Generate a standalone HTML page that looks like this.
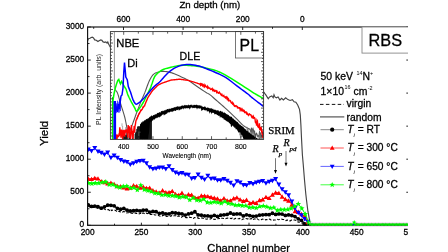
<!DOCTYPE html>
<html><head><meta charset="utf-8"><title>RBS PL figure</title>
<style>html,body{margin:0;padding:0;background:#fff;}body{width:448px;height:252px;position:relative;overflow:hidden;}</style>
</head><body>
<svg width="448" height="252" viewBox="0 0 448 252" style="position:absolute;left:0;top:0">
<defs><clipPath id="mc"><rect x="88" y="27" width="320" height="200"/></clipPath><clipPath id="ic"><rect x="110.6" y="31.8" width="152.9" height="107.4"/></clipPath></defs>
<rect x="87.6" y="27.0" width="321.9" height="198.3" fill="none" stroke="#111" stroke-width="1.15"/>
<path d="M87.6,225.30h3.2M409.5,225.30h-3.2M87.6,208.78h1.9M87.6,192.25h3.2M409.5,192.25h-3.2M87.6,175.73h1.9M87.6,159.20h3.2M409.5,159.20h-3.2M87.6,142.68h1.9M87.6,126.15h3.2M409.5,126.15h-3.2M87.6,109.62h1.9M87.6,93.10h3.2M409.5,93.10h-3.2M87.6,76.57h1.9M87.6,60.05h3.2M409.5,60.05h-3.2M87.6,43.53h1.9M87.6,27.00h3.2M409.5,27.00h-3.2M87.60,225.3v-2.6M114.50,225.3v-1.6M141.40,225.3v-2.6M168.30,225.3v-1.6M195.20,225.3v-2.6M222.10,225.3v-1.6M249.00,225.3v-2.6M275.90,225.3v-1.6M302.80,225.3v-2.6M329.70,225.3v-1.6M356.60,225.3v-2.6M383.50,225.3v-1.6M410.40,225.3v-2.6M302.30,27v3.0M272.50,27v1.8M242.70,27v3.0M212.90,27v1.8M183.10,27v3.0M153.30,27v1.8M123.50,27v3.0M93.70,27v1.8" stroke="#111" stroke-width="0.9" fill="none"/>
<g clip-path="url(#mc)">
<polyline points="87.80,40.50 88.40,38.70 90.00,38.30 91.20,37.50 92.30,37.10 93.50,37.90 94.70,39.90 96.30,40.30 97.90,41.50 99.10,40.70 100.70,39.90 101.90,40.30 103.10,41.90 104.70,42.30 105.80,41.90 107.00,43.10 107.80,41.90 108.60,43.90 109.40,45.50 110.40,47.30" fill="none" stroke="#444" stroke-width="1.15"/>
<polyline points="263.50,91.50 263.80,92.00 264.70,93.40 266.00,95.10 268.25,98.70 269.60,96.90 271.80,96.00 273.20,97.80 274.00,94.70 274.90,96.90 276.30,97.80 278.10,96.90 279.90,100.00 281.60,98.30 283.40,100.00 285.70,97.80 287.90,99.60 290.10,100.50 292.40,99.60 294.10,101.80 295.90,102.30 297.70,105.00 299.50,109.40 300.30,115.00 300.90,125.00 301.60,140.00 302.40,155.00 303.20,164.00 304.50,180.00 305.80,194.00 306.50,200.00 307.90,211.20 309.80,221.40 311.00,224.00 312.00,224.80 408.00,224.80" fill="none" stroke="#444" stroke-width="1.15"/>
<polyline points="88.00,206.25 89.08,206.27 90.15,207.23 91.23,206.69 92.30,207.54 93.38,207.48 94.46,207.21 95.53,208.01 96.61,207.52 97.68,208.24 98.76,207.90 99.84,208.10 100.91,208.70 101.99,209.40 103.06,208.54 104.14,208.81 105.22,209.50 106.29,210.06 107.37,209.65 108.44,209.51 109.52,210.44 110.60,209.31 111.67,210.65 112.75,210.05 113.82,210.04 114.90,210.20 115.98,210.67 117.05,211.58 118.13,210.87 119.20,211.60 120.28,211.85 121.36,211.65 122.43,212.07 123.51,211.56 124.58,211.72 125.66,212.10 126.74,212.93 127.81,212.75 128.89,212.76 129.96,213.31 131.04,213.15 132.12,212.96 133.19,213.67 134.27,213.56 135.34,212.94 136.42,213.42 137.50,213.38 138.57,213.89 139.65,213.70 140.72,213.10 141.80,214.09 142.88,212.91 143.95,213.35 145.03,213.84 146.10,213.03 147.18,213.65 148.26,213.17 149.33,214.20 150.41,214.49 151.48,214.37 152.56,214.95 153.64,214.31 154.71,215.00 155.79,215.01 156.86,215.14 157.94,215.12 159.02,215.81 160.09,216.05 161.17,215.45 162.24,215.78 163.32,214.99 164.40,215.94 165.47,215.93 166.55,216.47 167.62,216.29 168.70,215.59 169.78,215.79 170.85,216.25 171.93,215.40 173.00,216.07 174.08,215.72 175.16,215.70 176.23,215.68 177.31,216.73 178.38,215.89 179.46,216.12 180.54,216.40 181.61,217.18 182.69,216.18 183.76,216.81 184.84,217.05 185.92,217.63 186.99,217.65 188.07,217.82 189.14,217.10 190.22,217.40 191.30,217.43 192.37,218.28 193.45,218.49 194.52,217.46 195.60,217.61 196.68,217.79 197.75,217.90 198.83,218.36 199.90,218.62 200.98,218.19 202.06,217.85 203.13,218.46 204.21,218.42 205.28,218.72 206.36,219.28 207.44,218.94 208.51,218.72 209.59,218.89 210.66,219.00 211.74,218.15 212.82,219.36 213.89,219.22 214.97,219.38 216.04,219.29 217.12,218.75 218.20,218.75 219.27,218.33 220.35,219.06 221.42,218.25 222.50,218.25 223.58,218.44 224.65,218.37 225.73,218.61 226.80,218.20 227.88,218.12 228.96,218.32 230.03,218.24 231.11,218.63 232.18,218.18 233.26,219.39 234.34,219.05 235.41,218.42 236.49,218.58 237.56,218.74 238.64,218.78 239.72,218.47 240.79,219.50 241.87,219.73 242.94,219.01 244.02,219.06 245.10,218.52 246.17,218.57 247.25,218.92 248.32,218.84 249.40,219.65 250.48,218.73 251.55,218.56 252.63,219.88 253.70,219.30 254.78,218.78 255.86,219.36 256.93,218.65 258.01,219.37 259.08,220.02 260.16,219.88 261.24,219.66 262.31,219.07 263.39,219.24 264.46,218.97 265.54,219.84 266.62,219.52 267.69,219.89 268.77,219.27 269.84,219.14 270.92,219.98 272.00,220.25 273.07,220.08 274.15,220.03 275.22,220.07 276.30,219.97 277.38,219.27 278.45,219.70 279.53,219.49 280.60,219.07 281.68,219.13 282.76,219.54 283.83,219.57 284.91,220.23 285.98,220.66 287.06,220.00 288.14,220.75 289.21,220.87 290.29,220.89 291.36,220.12 292.44,219.97 293.52,220.04 294.59,220.05 295.67,220.29 296.74,221.20 297.82,221.91 298.90,222.15 299.97,221.96 301.05,222.61 302.12,223.22 303.20,222.62 304.28,223.90 305.35,224.95 306.43,225.20 307.50,225.15 308.58,224.77 309.66,224.35 310.73,225.20 311.81,224.57" fill="none" stroke="#000" stroke-width="1.1" stroke-dasharray="2.8,1.6"/>
<polyline points="88.30,204.88 91.53,206.47 94.76,206.08 97.99,206.75 101.22,208.15 104.45,206.83 107.68,205.20 110.91,205.28 114.14,205.86 117.37,208.28 120.60,209.27 123.83,208.42 127.06,210.21 130.29,211.00 133.52,210.74 136.75,210.35 139.98,210.93 143.21,210.16 146.44,210.03 149.67,212.14 152.90,211.43 156.13,211.68 159.36,213.36 162.59,212.95 165.82,213.92 169.05,213.82 172.28,212.64 175.51,213.01 178.74,213.42 181.97,213.82 185.20,215.10 188.43,213.89 191.66,213.17 194.89,211.77 198.12,214.96 201.35,215.21 204.58,215.87 207.81,215.93 211.04,216.48 214.27,215.37 217.50,216.41 220.73,215.13 223.96,214.84 227.19,214.46 230.42,212.98 233.65,214.17 236.88,213.94 240.11,213.88 243.34,215.97 246.57,214.79 249.80,215.59 253.03,216.29 256.26,216.07 259.49,215.15 262.72,214.81 265.95,214.53 269.18,214.71 272.41,213.25 275.64,214.41 278.87,213.89 282.10,214.11 285.33,215.37 288.56,214.94 291.79,215.49 295.02,216.58 298.25,218.86 301.48,220.36 304.71,223.82 309.00,224.60 408.00,224.60" fill="none" stroke="#111" stroke-width="1.5"/>
<path d="M86.40,204.88a1.9,1.9 0 1,0 3.8,0a1.9,1.9 0 1,0 -3.8,0ZM89.63,206.47a1.9,1.9 0 1,0 3.8,0a1.9,1.9 0 1,0 -3.8,0ZM92.86,206.08a1.9,1.9 0 1,0 3.8,0a1.9,1.9 0 1,0 -3.8,0ZM96.09,206.75a1.9,1.9 0 1,0 3.8,0a1.9,1.9 0 1,0 -3.8,0ZM99.32,208.15a1.9,1.9 0 1,0 3.8,0a1.9,1.9 0 1,0 -3.8,0ZM102.55,206.83a1.9,1.9 0 1,0 3.8,0a1.9,1.9 0 1,0 -3.8,0ZM105.78,205.20a1.9,1.9 0 1,0 3.8,0a1.9,1.9 0 1,0 -3.8,0ZM109.01,205.28a1.9,1.9 0 1,0 3.8,0a1.9,1.9 0 1,0 -3.8,0ZM112.24,205.86a1.9,1.9 0 1,0 3.8,0a1.9,1.9 0 1,0 -3.8,0ZM115.47,208.28a1.9,1.9 0 1,0 3.8,0a1.9,1.9 0 1,0 -3.8,0ZM118.70,209.27a1.9,1.9 0 1,0 3.8,0a1.9,1.9 0 1,0 -3.8,0ZM121.93,208.42a1.9,1.9 0 1,0 3.8,0a1.9,1.9 0 1,0 -3.8,0ZM125.16,210.21a1.9,1.9 0 1,0 3.8,0a1.9,1.9 0 1,0 -3.8,0ZM128.39,211.00a1.9,1.9 0 1,0 3.8,0a1.9,1.9 0 1,0 -3.8,0ZM131.62,210.74a1.9,1.9 0 1,0 3.8,0a1.9,1.9 0 1,0 -3.8,0ZM134.85,210.35a1.9,1.9 0 1,0 3.8,0a1.9,1.9 0 1,0 -3.8,0ZM138.08,210.93a1.9,1.9 0 1,0 3.8,0a1.9,1.9 0 1,0 -3.8,0ZM141.31,210.16a1.9,1.9 0 1,0 3.8,0a1.9,1.9 0 1,0 -3.8,0ZM144.54,210.03a1.9,1.9 0 1,0 3.8,0a1.9,1.9 0 1,0 -3.8,0ZM147.77,212.14a1.9,1.9 0 1,0 3.8,0a1.9,1.9 0 1,0 -3.8,0ZM151.00,211.43a1.9,1.9 0 1,0 3.8,0a1.9,1.9 0 1,0 -3.8,0ZM154.23,211.68a1.9,1.9 0 1,0 3.8,0a1.9,1.9 0 1,0 -3.8,0ZM157.46,213.36a1.9,1.9 0 1,0 3.8,0a1.9,1.9 0 1,0 -3.8,0ZM160.69,212.95a1.9,1.9 0 1,0 3.8,0a1.9,1.9 0 1,0 -3.8,0ZM163.92,213.92a1.9,1.9 0 1,0 3.8,0a1.9,1.9 0 1,0 -3.8,0ZM167.15,213.82a1.9,1.9 0 1,0 3.8,0a1.9,1.9 0 1,0 -3.8,0ZM170.38,212.64a1.9,1.9 0 1,0 3.8,0a1.9,1.9 0 1,0 -3.8,0ZM173.61,213.01a1.9,1.9 0 1,0 3.8,0a1.9,1.9 0 1,0 -3.8,0ZM176.84,213.42a1.9,1.9 0 1,0 3.8,0a1.9,1.9 0 1,0 -3.8,0ZM180.07,213.82a1.9,1.9 0 1,0 3.8,0a1.9,1.9 0 1,0 -3.8,0ZM183.30,215.10a1.9,1.9 0 1,0 3.8,0a1.9,1.9 0 1,0 -3.8,0ZM186.53,213.89a1.9,1.9 0 1,0 3.8,0a1.9,1.9 0 1,0 -3.8,0ZM189.76,213.17a1.9,1.9 0 1,0 3.8,0a1.9,1.9 0 1,0 -3.8,0ZM192.99,211.77a1.9,1.9 0 1,0 3.8,0a1.9,1.9 0 1,0 -3.8,0ZM196.22,214.96a1.9,1.9 0 1,0 3.8,0a1.9,1.9 0 1,0 -3.8,0ZM199.45,215.21a1.9,1.9 0 1,0 3.8,0a1.9,1.9 0 1,0 -3.8,0ZM202.68,215.87a1.9,1.9 0 1,0 3.8,0a1.9,1.9 0 1,0 -3.8,0ZM205.91,215.93a1.9,1.9 0 1,0 3.8,0a1.9,1.9 0 1,0 -3.8,0ZM209.14,216.48a1.9,1.9 0 1,0 3.8,0a1.9,1.9 0 1,0 -3.8,0ZM212.37,215.37a1.9,1.9 0 1,0 3.8,0a1.9,1.9 0 1,0 -3.8,0ZM215.60,216.41a1.9,1.9 0 1,0 3.8,0a1.9,1.9 0 1,0 -3.8,0ZM218.83,215.13a1.9,1.9 0 1,0 3.8,0a1.9,1.9 0 1,0 -3.8,0ZM222.06,214.84a1.9,1.9 0 1,0 3.8,0a1.9,1.9 0 1,0 -3.8,0ZM225.29,214.46a1.9,1.9 0 1,0 3.8,0a1.9,1.9 0 1,0 -3.8,0ZM228.52,212.98a1.9,1.9 0 1,0 3.8,0a1.9,1.9 0 1,0 -3.8,0ZM231.75,214.17a1.9,1.9 0 1,0 3.8,0a1.9,1.9 0 1,0 -3.8,0ZM234.98,213.94a1.9,1.9 0 1,0 3.8,0a1.9,1.9 0 1,0 -3.8,0ZM238.21,213.88a1.9,1.9 0 1,0 3.8,0a1.9,1.9 0 1,0 -3.8,0ZM241.44,215.97a1.9,1.9 0 1,0 3.8,0a1.9,1.9 0 1,0 -3.8,0ZM244.67,214.79a1.9,1.9 0 1,0 3.8,0a1.9,1.9 0 1,0 -3.8,0ZM247.90,215.59a1.9,1.9 0 1,0 3.8,0a1.9,1.9 0 1,0 -3.8,0ZM251.13,216.29a1.9,1.9 0 1,0 3.8,0a1.9,1.9 0 1,0 -3.8,0ZM254.36,216.07a1.9,1.9 0 1,0 3.8,0a1.9,1.9 0 1,0 -3.8,0ZM257.59,215.15a1.9,1.9 0 1,0 3.8,0a1.9,1.9 0 1,0 -3.8,0ZM260.82,214.81a1.9,1.9 0 1,0 3.8,0a1.9,1.9 0 1,0 -3.8,0ZM264.05,214.53a1.9,1.9 0 1,0 3.8,0a1.9,1.9 0 1,0 -3.8,0ZM267.28,214.71a1.9,1.9 0 1,0 3.8,0a1.9,1.9 0 1,0 -3.8,0ZM270.51,213.25a1.9,1.9 0 1,0 3.8,0a1.9,1.9 0 1,0 -3.8,0ZM273.74,214.41a1.9,1.9 0 1,0 3.8,0a1.9,1.9 0 1,0 -3.8,0ZM276.97,213.89a1.9,1.9 0 1,0 3.8,0a1.9,1.9 0 1,0 -3.8,0ZM280.20,214.11a1.9,1.9 0 1,0 3.8,0a1.9,1.9 0 1,0 -3.8,0ZM283.43,215.37a1.9,1.9 0 1,0 3.8,0a1.9,1.9 0 1,0 -3.8,0ZM286.66,214.94a1.9,1.9 0 1,0 3.8,0a1.9,1.9 0 1,0 -3.8,0ZM289.89,215.49a1.9,1.9 0 1,0 3.8,0a1.9,1.9 0 1,0 -3.8,0ZM293.12,216.58a1.9,1.9 0 1,0 3.8,0a1.9,1.9 0 1,0 -3.8,0ZM296.35,218.86a1.9,1.9 0 1,0 3.8,0a1.9,1.9 0 1,0 -3.8,0ZM299.58,220.36a1.9,1.9 0 1,0 3.8,0a1.9,1.9 0 1,0 -3.8,0ZM302.81,223.82a1.9,1.9 0 1,0 3.8,0a1.9,1.9 0 1,0 -3.8,0Z" fill="#000"/>
<polyline points="88.30,178.82 91.53,178.84 94.76,177.84 97.99,178.33 101.22,181.12 104.45,182.00 107.68,183.26 110.91,182.59 114.14,183.87 117.37,185.93 120.60,186.29 123.83,187.40 127.06,188.41 130.29,187.62 133.52,185.31 136.75,186.03 139.98,187.65 143.21,186.77 146.44,187.92 149.67,187.69 152.90,190.33 156.13,191.53 159.36,192.72 162.59,190.26 165.82,192.28 169.05,192.20 172.28,190.86 175.51,194.05 178.74,194.90 181.97,192.77 185.20,195.90 188.43,194.18 191.66,194.78 194.89,197.33 198.12,197.67 201.35,195.48 204.58,195.73 207.81,196.09 211.04,197.03 214.27,197.79 217.50,198.56 220.73,200.35 223.96,198.16 227.19,200.42 230.42,200.37 233.65,198.24 236.88,197.39 240.11,199.42 243.34,200.88 246.57,199.68 249.80,203.08 253.03,201.95 256.26,202.77 259.49,200.02 262.72,199.30 265.95,196.87 269.18,197.91 272.41,194.47 275.64,192.49 278.87,192.88 282.10,196.57 285.33,199.06 288.56,200.51 291.79,204.42 295.02,211.10 298.25,211.73 301.48,214.00 304.71,216.14 307.94,221.73 313.00,224.60 408.00,224.60" fill="none" stroke="#f00" stroke-width="1.0"/>
<path d="M85.85,181.02L90.75,181.02L88.30,176.61ZM89.08,181.05L93.98,181.05L91.53,176.64ZM92.31,180.04L97.21,180.04L94.76,175.63ZM95.54,180.54L100.44,180.54L97.99,176.13ZM98.77,183.33L103.67,183.33L101.22,178.92ZM102.00,184.21L106.90,184.21L104.45,179.80ZM105.23,185.46L110.13,185.46L107.68,181.05ZM108.46,184.80L113.36,184.80L110.91,180.39ZM111.69,186.07L116.59,186.07L114.14,181.66ZM114.92,188.14L119.82,188.14L117.37,183.73ZM118.15,188.49L123.05,188.49L120.60,184.08ZM121.38,189.60L126.28,189.60L123.83,185.19ZM124.61,190.62L129.51,190.62L127.06,186.21ZM127.84,189.82L132.74,189.82L130.29,185.41ZM131.07,187.51L135.97,187.51L133.52,183.10ZM134.30,188.23L139.20,188.23L136.75,183.82ZM137.53,189.86L142.43,189.86L139.98,185.45ZM140.76,188.97L145.66,188.97L143.21,184.56ZM143.99,190.12L148.89,190.12L146.44,185.71ZM147.22,189.90L152.12,189.90L149.67,185.49ZM150.45,192.53L155.35,192.53L152.90,188.12ZM153.68,193.73L158.58,193.73L156.13,189.32ZM156.91,194.93L161.81,194.93L159.36,190.52ZM160.14,192.46L165.04,192.46L162.59,188.05ZM163.37,194.48L168.27,194.48L165.82,190.07ZM166.60,194.40L171.50,194.40L169.05,189.99ZM169.83,193.07L174.73,193.07L172.28,188.66ZM173.06,196.25L177.96,196.25L175.51,191.84ZM176.29,197.11L181.19,197.11L178.74,192.70ZM179.52,194.98L184.42,194.98L181.97,190.57ZM182.75,198.10L187.65,198.10L185.20,193.69ZM185.98,196.39L190.88,196.39L188.43,191.98ZM189.21,196.99L194.11,196.99L191.66,192.58ZM192.44,199.54L197.34,199.54L194.89,195.13ZM195.67,199.88L200.57,199.88L198.12,195.47ZM198.90,197.68L203.80,197.68L201.35,193.27ZM202.13,197.93L207.03,197.93L204.58,193.52ZM205.36,198.30L210.26,198.30L207.81,193.89ZM208.59,199.23L213.49,199.23L211.04,194.82ZM211.82,199.99L216.72,199.99L214.27,195.58ZM215.05,200.77L219.95,200.77L217.50,196.36ZM218.28,202.56L223.18,202.56L220.73,198.15ZM221.51,200.36L226.41,200.36L223.96,195.95ZM224.74,202.62L229.64,202.62L227.19,198.21ZM227.97,202.58L232.87,202.58L230.42,198.17ZM231.20,200.45L236.10,200.45L233.65,196.04ZM234.43,199.60L239.33,199.60L236.88,195.19ZM237.66,201.62L242.56,201.62L240.11,197.21ZM240.89,203.08L245.79,203.08L243.34,198.67ZM244.12,201.89L249.02,201.89L246.57,197.48ZM247.35,205.28L252.25,205.28L249.80,200.87ZM250.58,204.16L255.48,204.16L253.03,199.75ZM253.81,204.97L258.71,204.97L256.26,200.56ZM257.04,202.22L261.94,202.22L259.49,197.81ZM260.27,201.50L265.17,201.50L262.72,197.09ZM263.50,199.07L268.40,199.07L265.95,194.66ZM266.73,200.12L271.63,200.12L269.18,195.71ZM269.96,196.67L274.86,196.67L272.41,192.26ZM273.19,194.69L278.09,194.69L275.64,190.28ZM276.42,195.08L281.32,195.08L278.87,190.67ZM279.65,198.77L284.55,198.77L282.10,194.36ZM282.88,201.27L287.78,201.27L285.33,196.86ZM286.11,202.72L291.01,202.72L288.56,198.31ZM289.34,206.63L294.24,206.63L291.79,202.22ZM292.57,213.30L297.47,213.30L295.02,208.89ZM295.80,213.93L300.70,213.93L298.25,209.52ZM299.03,216.20L303.93,216.20L301.48,211.79ZM302.26,218.34L307.16,218.34L304.71,213.93ZM305.49,223.94L310.39,223.94L307.94,219.53Z" fill="#f00"/>
<polyline points="88.30,149.75 91.53,151.14 94.76,148.37 97.99,151.69 101.22,153.11 104.45,154.72 107.68,152.76 110.91,157.98 114.14,155.84 117.37,158.04 120.60,160.20 123.83,161.64 127.06,162.21 130.29,164.65 133.52,163.55 136.75,161.92 139.98,161.37 143.21,160.94 146.44,163.43 149.67,167.40 152.90,169.19 156.13,168.83 159.36,167.82 162.59,167.77 165.82,169.16 169.05,166.61 172.28,170.32 175.51,172.78 178.74,174.01 181.97,173.30 185.20,174.69 188.43,174.95 191.66,178.64 194.89,178.23 198.12,174.80 201.35,178.12 204.58,179.67 207.81,176.08 211.04,178.93 214.27,178.81 217.50,180.53 220.73,180.48 223.96,179.37 227.19,181.05 230.42,182.92 233.65,185.64 236.88,181.55 240.11,182.63 243.34,185.18 246.57,185.55 249.80,183.26 253.03,184.18 256.26,182.84 259.49,182.01 262.72,181.28 265.95,183.38 269.18,181.92 272.41,180.91 275.64,179.31 278.87,184.86 282.10,189.38 285.33,192.39 288.56,195.56 291.79,201.65 295.02,208.28 298.25,213.08 301.48,215.53 304.71,219.31 307.94,221.89 314.00,224.60 408.00,224.60" fill="none" stroke="#00f" stroke-width="1.0"/>
<path d="M85.80,147.50L90.80,147.50L88.30,152.00ZM89.03,148.89L94.03,148.89L91.53,153.39ZM92.26,146.12L97.26,146.12L94.76,150.62ZM95.49,149.44L100.49,149.44L97.99,153.94ZM98.72,150.86L103.72,150.86L101.22,155.36ZM101.95,152.47L106.95,152.47L104.45,156.97ZM105.18,150.51L110.18,150.51L107.68,155.01ZM108.41,155.73L113.41,155.73L110.91,160.23ZM111.64,153.59L116.64,153.59L114.14,158.09ZM114.87,155.79L119.87,155.79L117.37,160.29ZM118.10,157.95L123.10,157.95L120.60,162.45ZM121.33,159.39L126.33,159.39L123.83,163.89ZM124.56,159.96L129.56,159.96L127.06,164.46ZM127.79,162.40L132.79,162.40L130.29,166.90ZM131.02,161.30L136.02,161.30L133.52,165.80ZM134.25,159.67L139.25,159.67L136.75,164.17ZM137.48,159.12L142.48,159.12L139.98,163.62ZM140.71,158.69L145.71,158.69L143.21,163.19ZM143.94,161.18L148.94,161.18L146.44,165.68ZM147.17,165.15L152.17,165.15L149.67,169.65ZM150.40,166.94L155.40,166.94L152.90,171.44ZM153.63,166.58L158.63,166.58L156.13,171.08ZM156.86,165.57L161.86,165.57L159.36,170.07ZM160.09,165.52L165.09,165.52L162.59,170.02ZM163.32,166.91L168.32,166.91L165.82,171.41ZM166.55,164.36L171.55,164.36L169.05,168.86ZM169.78,168.07L174.78,168.07L172.28,172.57ZM173.01,170.53L178.01,170.53L175.51,175.03ZM176.24,171.76L181.24,171.76L178.74,176.26ZM179.47,171.05L184.47,171.05L181.97,175.55ZM182.70,172.44L187.70,172.44L185.20,176.94ZM185.93,172.70L190.93,172.70L188.43,177.20ZM189.16,176.39L194.16,176.39L191.66,180.89ZM192.39,175.98L197.39,175.98L194.89,180.48ZM195.62,172.55L200.62,172.55L198.12,177.05ZM198.85,175.87L203.85,175.87L201.35,180.37ZM202.08,177.42L207.08,177.42L204.58,181.92ZM205.31,173.83L210.31,173.83L207.81,178.33ZM208.54,176.68L213.54,176.68L211.04,181.18ZM211.77,176.56L216.77,176.56L214.27,181.06ZM215.00,178.28L220.00,178.28L217.50,182.78ZM218.23,178.23L223.23,178.23L220.73,182.73ZM221.46,177.12L226.46,177.12L223.96,181.62ZM224.69,178.80L229.69,178.80L227.19,183.30ZM227.92,180.67L232.92,180.67L230.42,185.17ZM231.15,183.39L236.15,183.39L233.65,187.89ZM234.38,179.30L239.38,179.30L236.88,183.80ZM237.61,180.38L242.61,180.38L240.11,184.88ZM240.84,182.93L245.84,182.93L243.34,187.43ZM244.07,183.30L249.07,183.30L246.57,187.80ZM247.30,181.01L252.30,181.01L249.80,185.51ZM250.53,181.93L255.53,181.93L253.03,186.43ZM253.76,180.59L258.76,180.59L256.26,185.09ZM256.99,179.76L261.99,179.76L259.49,184.26ZM260.22,179.03L265.22,179.03L262.72,183.53ZM263.45,181.13L268.45,181.13L265.95,185.63ZM266.68,179.67L271.68,179.67L269.18,184.17ZM269.91,178.66L274.91,178.66L272.41,183.16ZM273.14,177.06L278.14,177.06L275.64,181.56ZM276.37,182.61L281.37,182.61L278.87,187.11ZM279.60,187.13L284.60,187.13L282.10,191.63ZM282.83,190.14L287.83,190.14L285.33,194.64ZM286.06,193.31L291.06,193.31L288.56,197.81ZM289.29,199.40L294.29,199.40L291.79,203.90ZM292.52,206.03L297.52,206.03L295.02,210.53ZM295.75,210.83L300.75,210.83L298.25,215.33ZM298.98,213.28L303.98,213.28L301.48,217.78ZM302.21,217.06L307.21,217.06L304.71,221.56ZM305.44,219.64L310.44,219.64L307.94,224.14Z" fill="#00f"/>
<polyline points="88.30,183.11 91.80,183.67 95.30,183.12 98.80,183.13 102.30,182.30 105.80,181.83 109.30,184.67 112.80,184.58 116.30,186.45 119.80,187.56 123.30,186.36 126.80,186.05 130.30,188.06 133.80,187.75 137.30,189.88 140.80,185.19 144.30,189.71 147.80,190.59 151.30,191.57 154.80,193.18 158.30,193.49 161.80,194.99 165.30,194.80 168.80,195.60 172.30,195.59 175.80,196.09 179.30,197.43 182.80,196.63 186.30,197.14 189.80,199.98 193.30,197.74 196.80,200.25 200.30,200.54 203.80,199.11 207.30,202.42 210.80,202.73 214.30,201.83 217.80,202.45 221.30,203.28 224.80,201.56 228.30,203.48 231.80,204.03 235.30,205.24 238.80,205.14 242.30,205.68 245.80,205.72 249.30,207.56 252.80,207.41 256.30,208.01 259.80,206.48 263.30,205.98 266.80,206.81 270.30,208.06 273.80,207.54 277.30,210.37 280.80,209.65 284.30,209.67 287.80,209.44 291.30,208.38 294.80,206.41 298.30,203.99 301.80,208.36 305.30,214.15 308.80,222.53 312.30,224.60 315.80,224.60 319.30,224.60 322.80,224.60 326.30,224.60 329.80,224.60 333.30,224.60 336.80,224.60 340.30,224.60 343.80,224.60 347.30,224.60 350.80,224.60 354.30,224.60 357.80,224.60 361.30,224.60 364.80,224.60 368.30,224.60 371.80,224.60 375.30,224.60 378.80,224.60 382.30,224.60 385.80,224.60 389.30,224.60 392.80,224.60 396.30,224.60 399.80,224.60 403.30,224.60 406.80,224.60 411.00,224.60 408.00,224.60" fill="none" stroke="#0f0" stroke-width="1.0"/>
<path d="M88.30,180.21L89.07,182.06L91.06,182.22L89.54,183.52L90.00,185.46L88.30,184.42L86.60,185.46L87.06,183.52L85.54,182.22L87.53,182.06ZM91.80,180.77L92.57,182.62L94.56,182.78L93.04,184.08L93.50,186.02L91.80,184.98L90.10,186.02L90.56,184.08L89.04,182.78L91.03,182.62ZM95.30,180.22L96.07,182.07L98.06,182.23L96.54,183.53L97.00,185.47L95.30,184.43L93.60,185.47L94.06,183.53L92.54,182.23L94.53,182.07ZM98.80,180.23L99.57,182.07L101.56,182.23L100.04,183.53L100.50,185.47L98.80,184.43L97.10,185.47L97.56,183.53L96.04,182.23L98.03,182.07ZM102.30,179.40L103.07,181.25L105.06,181.41L103.54,182.71L104.00,184.65L102.30,183.61L100.60,184.65L101.06,182.71L99.54,181.41L101.53,181.25ZM105.80,178.93L106.57,180.78L108.56,180.94L107.04,182.24L107.50,184.18L105.80,183.14L104.10,184.18L104.56,182.24L103.04,180.94L105.03,180.78ZM109.30,181.77L110.07,183.61L112.06,183.77L110.54,185.07L111.00,187.01L109.30,185.97L107.60,187.01L108.06,185.07L106.54,183.77L108.53,183.61ZM112.80,181.68L113.57,183.53L115.56,183.69L114.04,184.98L114.50,186.93L112.80,185.89L111.10,186.93L111.56,184.98L110.04,183.69L112.03,183.53ZM116.30,183.55L117.07,185.39L119.06,185.55L117.54,186.85L118.00,188.79L116.30,187.75L114.60,188.79L115.06,186.85L113.54,185.55L115.53,185.39ZM119.80,184.66L120.57,186.50L122.56,186.66L121.04,187.96L121.50,189.90L119.80,188.86L118.10,189.90L118.56,187.96L117.04,186.66L119.03,186.50ZM123.30,183.46L124.07,185.30L126.06,185.46L124.54,186.76L125.00,188.70L123.30,187.66L121.60,188.70L122.06,186.76L120.54,185.46L122.53,185.30ZM126.80,183.15L127.57,184.99L129.56,185.15L128.04,186.45L128.50,188.40L126.80,187.35L125.10,188.40L125.56,186.45L124.04,185.15L126.03,184.99ZM130.30,185.16L131.07,187.00L133.06,187.16L131.54,188.46L132.00,190.41L130.30,189.37L128.60,190.41L129.06,188.46L127.54,187.16L129.53,187.00ZM133.80,184.85L134.57,186.69L136.56,186.85L135.04,188.15L135.50,190.09L133.80,189.05L132.10,190.09L132.56,188.15L131.04,186.85L133.03,186.69ZM137.30,186.98L138.07,188.83L140.06,188.98L138.54,190.28L139.00,192.23L137.30,191.19L135.60,192.23L136.06,190.28L134.54,188.98L136.53,188.83ZM140.80,182.29L141.57,184.13L143.56,184.29L142.04,185.59L142.50,187.54L140.80,186.50L139.10,187.54L139.56,185.59L138.04,184.29L140.03,184.13ZM144.30,186.81L145.07,188.65L147.06,188.81L145.54,190.11L146.00,192.05L144.30,191.01L142.60,192.05L143.06,190.11L141.54,188.81L143.53,188.65ZM147.80,187.69L148.57,189.53L150.56,189.69L149.04,190.99L149.50,192.93L147.80,191.89L146.10,192.93L146.56,190.99L145.04,189.69L147.03,189.53ZM151.30,188.67L152.07,190.51L154.06,190.67L152.54,191.97L153.00,193.91L151.30,192.87L149.60,193.91L150.06,191.97L148.54,190.67L150.53,190.51ZM154.80,190.28L155.57,192.12L157.56,192.28L156.04,193.58L156.50,195.52L154.80,194.48L153.10,195.52L153.56,193.58L152.04,192.28L154.03,192.12ZM158.30,190.59L159.07,192.43L161.06,192.59L159.54,193.89L160.00,195.84L158.30,194.80L156.60,195.84L157.06,193.89L155.54,192.59L157.53,192.43ZM161.80,192.09L162.57,193.94L164.56,194.09L163.04,195.39L163.50,197.34L161.80,196.30L160.10,197.34L160.56,195.39L159.04,194.09L161.03,193.94ZM165.30,191.90L166.07,193.74L168.06,193.90L166.54,195.20L167.00,197.15L165.30,196.10L163.60,197.15L164.06,195.20L162.54,193.90L164.53,193.74ZM168.80,192.70L169.57,194.54L171.56,194.70L170.04,196.00L170.50,197.94L168.80,196.90L167.10,197.94L167.56,196.00L166.04,194.70L168.03,194.54ZM172.30,192.69L173.07,194.53L175.06,194.69L173.54,195.99L174.00,197.93L172.30,196.89L170.60,197.93L171.06,195.99L169.54,194.69L171.53,194.53ZM175.80,193.19L176.57,195.03L178.56,195.19L177.04,196.49L177.50,198.44L175.80,197.40L174.10,198.44L174.56,196.49L173.04,195.19L175.03,195.03ZM179.30,194.53L180.07,196.37L182.06,196.53L180.54,197.83L181.00,199.78L179.30,198.73L177.60,199.78L178.06,197.83L176.54,196.53L178.53,196.37ZM182.80,193.73L183.57,195.57L185.56,195.73L184.04,197.03L184.50,198.98L182.80,197.93L181.10,198.98L181.56,197.03L180.04,195.73L182.03,195.57ZM186.30,194.24L187.07,196.08L189.06,196.24L187.54,197.54L188.00,199.48L186.30,198.44L184.60,199.48L185.06,197.54L183.54,196.24L185.53,196.08ZM189.80,197.08L190.57,198.93L192.56,199.09L191.04,200.38L191.50,202.33L189.80,201.29L188.10,202.33L188.56,200.38L187.04,199.09L189.03,198.93ZM193.30,194.84L194.07,196.68L196.06,196.84L194.54,198.14L195.00,200.08L193.30,199.04L191.60,200.08L192.06,198.14L190.54,196.84L192.53,196.68ZM196.80,197.35L197.57,199.20L199.56,199.36L198.04,200.66L198.50,202.60L196.80,201.56L195.10,202.60L195.56,200.66L194.04,199.36L196.03,199.20ZM200.30,197.64L201.07,199.48L203.06,199.64L201.54,200.94L202.00,202.88L200.30,201.84L198.60,202.88L199.06,200.94L197.54,199.64L199.53,199.48ZM203.80,196.21L204.57,198.06L206.56,198.21L205.04,199.51L205.50,201.46L203.80,200.42L202.10,201.46L202.56,199.51L201.04,198.21L203.03,198.06ZM207.30,199.52L208.07,201.36L210.06,201.52L208.54,202.82L209.00,204.76L207.30,203.72L205.60,204.76L206.06,202.82L204.54,201.52L206.53,201.36ZM210.80,199.83L211.57,201.68L213.56,201.84L212.04,203.14L212.50,205.08L210.80,204.04L209.10,205.08L209.56,203.14L208.04,201.84L210.03,201.68ZM214.30,198.93L215.07,200.78L217.06,200.94L215.54,202.24L216.00,204.18L214.30,203.14L212.60,204.18L213.06,202.24L211.54,200.94L213.53,200.78ZM217.80,199.55L218.57,201.40L220.56,201.56L219.04,202.86L219.50,204.80L217.80,203.76L216.10,204.80L216.56,202.86L215.04,201.56L217.03,201.40ZM221.30,200.38L222.07,202.22L224.06,202.38L222.54,203.68L223.00,205.63L221.30,204.59L219.60,205.63L220.06,203.68L218.54,202.38L220.53,202.22ZM224.80,198.66L225.57,200.51L227.56,200.66L226.04,201.96L226.50,203.91L224.80,202.87L223.10,203.91L223.56,201.96L222.04,200.66L224.03,200.51ZM228.30,200.58L229.07,202.43L231.06,202.58L229.54,203.88L230.00,205.83L228.30,204.79L226.60,205.83L227.06,203.88L225.54,202.58L227.53,202.43ZM231.80,201.13L232.57,202.97L234.56,203.13L233.04,204.43L233.50,206.37L231.80,205.33L230.10,206.37L230.56,204.43L229.04,203.13L231.03,202.97ZM235.30,202.34L236.07,204.18L238.06,204.34L236.54,205.64L237.00,207.58L235.30,206.54L233.60,207.58L234.06,205.64L232.54,204.34L234.53,204.18ZM238.80,202.24L239.57,204.08L241.56,204.24L240.04,205.54L240.50,207.48L238.80,206.44L237.10,207.48L237.56,205.54L236.04,204.24L238.03,204.08ZM242.30,202.78L243.07,204.62L245.06,204.78L243.54,206.08L244.00,208.03L242.30,206.98L240.60,208.03L241.06,206.08L239.54,204.78L241.53,204.62ZM245.80,202.82L246.57,204.66L248.56,204.82L247.04,206.12L247.50,208.07L245.80,207.02L244.10,208.07L244.56,206.12L243.04,204.82L245.03,204.66ZM249.30,204.66L250.07,206.51L252.06,206.67L250.54,207.97L251.00,209.91L249.30,208.87L247.60,209.91L248.06,207.97L246.54,206.67L248.53,206.51ZM252.80,204.51L253.57,206.36L255.56,206.52L254.04,207.82L254.50,209.76L252.80,208.72L251.10,209.76L251.56,207.82L250.04,206.52L252.03,206.36ZM256.30,205.11L257.07,206.95L259.06,207.11L257.54,208.41L258.00,210.36L256.30,209.31L254.60,210.36L255.06,208.41L253.54,207.11L255.53,206.95ZM259.80,203.58L260.57,205.43L262.56,205.59L261.04,206.89L261.50,208.83L259.80,207.79L258.10,208.83L258.56,206.89L257.04,205.59L259.03,205.43ZM263.30,203.08L264.07,204.93L266.06,205.09L264.54,206.39L265.00,208.33L263.30,207.29L261.60,208.33L262.06,206.39L260.54,205.09L262.53,204.93ZM266.80,203.91L267.57,205.76L269.56,205.92L268.04,207.22L268.50,209.16L266.80,208.12L265.10,209.16L265.56,207.22L264.04,205.92L266.03,205.76ZM270.30,205.16L271.07,207.00L273.06,207.16L271.54,208.46L272.00,210.40L270.30,209.36L268.60,210.40L269.06,208.46L267.54,207.16L269.53,207.00ZM273.80,204.64L274.57,206.48L276.56,206.64L275.04,207.94L275.50,209.88L273.80,208.84L272.10,209.88L272.56,207.94L271.04,206.64L273.03,206.48ZM277.30,207.47L278.07,209.32L280.06,209.48L278.54,210.78L279.00,212.72L277.30,211.68L275.60,212.72L276.06,210.78L274.54,209.48L276.53,209.32ZM280.80,206.75L281.57,208.59L283.56,208.75L282.04,210.05L282.50,212.00L280.80,210.95L279.10,212.00L279.56,210.05L278.04,208.75L280.03,208.59ZM284.30,206.77L285.07,208.61L287.06,208.77L285.54,210.07L286.00,212.01L284.30,210.97L282.60,212.01L283.06,210.07L281.54,208.77L283.53,208.61ZM287.80,206.54L288.57,208.39L290.56,208.55L289.04,209.84L289.50,211.79L287.80,210.75L286.10,211.79L286.56,209.84L285.04,208.55L287.03,208.39ZM291.30,205.48L292.07,207.32L294.06,207.48L292.54,208.78L293.00,210.72L291.30,209.68L289.60,210.72L290.06,208.78L288.54,207.48L290.53,207.32ZM294.80,203.51L295.57,205.36L297.56,205.52L296.04,206.82L296.50,208.76L294.80,207.72L293.10,208.76L293.56,206.82L292.04,205.52L294.03,205.36ZM298.30,201.09L299.07,202.94L301.06,203.10L299.54,204.40L300.00,206.34L298.30,205.30L296.60,206.34L297.06,204.40L295.54,203.10L297.53,202.94ZM301.80,205.46L302.57,207.31L304.56,207.47L303.04,208.77L303.50,210.71L301.80,209.67L300.10,210.71L300.56,208.77L299.04,207.47L301.03,207.31ZM305.30,211.25L306.07,213.09L308.06,213.25L306.54,214.55L307.00,216.49L305.30,215.45L303.60,216.49L304.06,214.55L302.54,213.25L304.53,213.09ZM308.80,219.63L309.57,221.47L311.56,221.63L310.04,222.93L310.50,224.88L308.80,223.84L307.10,224.88L307.56,222.93L306.04,221.63L308.03,221.47ZM312.30,222.51L312.85,223.84L314.29,223.95L313.19,224.89L313.53,226.29L312.30,225.54L311.07,226.29L311.41,224.89L310.31,223.95L311.75,223.84ZM315.80,222.51L316.35,223.84L317.79,223.95L316.69,224.89L317.03,226.29L315.80,225.54L314.57,226.29L314.91,224.89L313.81,223.95L315.25,223.84ZM319.30,222.51L319.85,223.84L321.29,223.95L320.19,224.89L320.53,226.29L319.30,225.54L318.07,226.29L318.41,224.89L317.31,223.95L318.75,223.84ZM322.80,222.51L323.35,223.84L324.79,223.95L323.69,224.89L324.03,226.29L322.80,225.54L321.57,226.29L321.91,224.89L320.81,223.95L322.25,223.84ZM326.30,222.51L326.85,223.84L328.29,223.95L327.19,224.89L327.53,226.29L326.30,225.54L325.07,226.29L325.41,224.89L324.31,223.95L325.75,223.84ZM329.80,222.51L330.35,223.84L331.79,223.95L330.69,224.89L331.03,226.29L329.80,225.54L328.57,226.29L328.91,224.89L327.81,223.95L329.25,223.84ZM333.30,222.51L333.85,223.84L335.29,223.95L334.19,224.89L334.53,226.29L333.30,225.54L332.07,226.29L332.41,224.89L331.31,223.95L332.75,223.84ZM336.80,222.51L337.35,223.84L338.79,223.95L337.69,224.89L338.03,226.29L336.80,225.54L335.57,226.29L335.91,224.89L334.81,223.95L336.25,223.84ZM340.30,222.51L340.85,223.84L342.29,223.95L341.19,224.89L341.53,226.29L340.30,225.54L339.07,226.29L339.41,224.89L338.31,223.95L339.75,223.84ZM343.80,222.51L344.35,223.84L345.79,223.95L344.69,224.89L345.03,226.29L343.80,225.54L342.57,226.29L342.91,224.89L341.81,223.95L343.25,223.84ZM347.30,222.51L347.85,223.84L349.29,223.95L348.19,224.89L348.53,226.29L347.30,225.54L346.07,226.29L346.41,224.89L345.31,223.95L346.75,223.84ZM350.80,222.51L351.35,223.84L352.79,223.95L351.69,224.89L352.03,226.29L350.80,225.54L349.57,226.29L349.91,224.89L348.81,223.95L350.25,223.84ZM354.30,222.51L354.85,223.84L356.29,223.95L355.19,224.89L355.53,226.29L354.30,225.54L353.07,226.29L353.41,224.89L352.31,223.95L353.75,223.84ZM357.80,222.51L358.35,223.84L359.79,223.95L358.69,224.89L359.03,226.29L357.80,225.54L356.57,226.29L356.91,224.89L355.81,223.95L357.25,223.84ZM361.30,222.51L361.85,223.84L363.29,223.95L362.19,224.89L362.53,226.29L361.30,225.54L360.07,226.29L360.41,224.89L359.31,223.95L360.75,223.84ZM364.80,222.51L365.35,223.84L366.79,223.95L365.69,224.89L366.03,226.29L364.80,225.54L363.57,226.29L363.91,224.89L362.81,223.95L364.25,223.84ZM368.30,222.51L368.85,223.84L370.29,223.95L369.19,224.89L369.53,226.29L368.30,225.54L367.07,226.29L367.41,224.89L366.31,223.95L367.75,223.84ZM371.80,222.51L372.35,223.84L373.79,223.95L372.69,224.89L373.03,226.29L371.80,225.54L370.57,226.29L370.91,224.89L369.81,223.95L371.25,223.84ZM375.30,222.51L375.85,223.84L377.29,223.95L376.19,224.89L376.53,226.29L375.30,225.54L374.07,226.29L374.41,224.89L373.31,223.95L374.75,223.84ZM378.80,222.51L379.35,223.84L380.79,223.95L379.69,224.89L380.03,226.29L378.80,225.54L377.57,226.29L377.91,224.89L376.81,223.95L378.25,223.84ZM382.30,222.51L382.85,223.84L384.29,223.95L383.19,224.89L383.53,226.29L382.30,225.54L381.07,226.29L381.41,224.89L380.31,223.95L381.75,223.84ZM385.80,222.51L386.35,223.84L387.79,223.95L386.69,224.89L387.03,226.29L385.80,225.54L384.57,226.29L384.91,224.89L383.81,223.95L385.25,223.84ZM389.30,222.51L389.85,223.84L391.29,223.95L390.19,224.89L390.53,226.29L389.30,225.54L388.07,226.29L388.41,224.89L387.31,223.95L388.75,223.84ZM392.80,222.51L393.35,223.84L394.79,223.95L393.69,224.89L394.03,226.29L392.80,225.54L391.57,226.29L391.91,224.89L390.81,223.95L392.25,223.84ZM396.30,222.51L396.85,223.84L398.29,223.95L397.19,224.89L397.53,226.29L396.30,225.54L395.07,226.29L395.41,224.89L394.31,223.95L395.75,223.84ZM399.80,222.51L400.35,223.84L401.79,223.95L400.69,224.89L401.03,226.29L399.80,225.54L398.57,226.29L398.91,224.89L397.81,223.95L399.25,223.84ZM403.30,222.51L403.85,223.84L405.29,223.95L404.19,224.89L404.53,226.29L403.30,225.54L402.07,226.29L402.41,224.89L401.31,223.95L402.75,223.84ZM406.80,222.51L407.35,223.84L408.79,223.95L407.69,224.89L408.03,226.29L406.80,225.54L405.57,226.29L405.91,224.89L404.81,223.95L406.25,223.84Z" fill="#0f0"/>
<line x1="309" y1="222.9" x2="408" y2="222.9" stroke="#f4c8f4" stroke-width="0.8"/>
<line x1="309" y1="226.3" x2="408" y2="226.3" stroke="#f4c8f4" stroke-width="0.8"/>
<line x1="309" y1="224.6" x2="408" y2="224.6" stroke="#00e000" stroke-width="2.0"/>
<path d="M352.3,225.5L353.6,223.2L354.4,224.8Z" fill="#00f"/>
<path d="M354.20,220.00L354.83,221.53L356.48,221.66L355.23,222.73L355.61,224.34L354.20,223.48L352.79,224.34L353.17,222.73L351.92,221.66L353.57,221.53Z" fill="#0f0"/>
</g>
<rect x="110.4" y="31.6" width="153.2" height="107.8" fill="#fff"/>
<g clip-path="url(#ic)">
<path d="M114.4,31.8V88L115.5,90" stroke="#8a8a8a" stroke-width="0.9" fill="none"/>
<polyline points="115.50,90.00 115.78,90.36 116.17,90.81 116.64,91.43 117.15,92.32 117.70,93.60 118.28,95.37 118.92,97.57 119.60,100.02 120.30,102.56 121.00,105.00 121.73,107.35 122.50,109.72 123.27,112.12 124.02,114.55 124.70,117.00 125.32,119.65 125.91,122.50 126.46,125.30 126.96,127.78 127.40,129.70 127.75,131.01 128.02,131.88 128.24,132.38 128.49,132.57 128.80,132.50 129.17,132.14 129.56,131.44 130.00,130.47 130.47,129.30 131.00,128.00 131.62,126.46 132.32,124.63 133.05,122.67 133.76,120.74 134.40,119.00 134.93,117.54 135.37,116.26 135.81,115.01 136.29,113.64 136.90,112.00 137.67,109.96 138.57,107.62 139.52,105.17 140.45,102.80 141.30,100.70 142.05,98.93 142.74,97.38 143.40,95.93 144.04,94.47 144.70,92.90 145.39,91.12 146.09,89.21 146.78,87.30 147.42,85.52 148.00,84.00 148.46,82.83 148.82,81.92 149.15,81.14 149.52,80.37 150.00,79.50 150.58,78.46 151.21,77.33 151.91,76.20 152.67,75.17 153.50,74.30 154.43,73.63 155.46,73.09 156.54,72.66 157.63,72.30 158.70,72.00 159.71,71.74 160.69,71.55 161.69,71.43 162.74,71.38 163.90,71.40 165.16,71.49 166.49,71.64 167.89,71.87 169.36,72.18 170.90,72.60 172.53,73.14 174.25,73.80 176.03,74.53 177.83,75.31 179.60,76.10 181.36,76.88 183.12,77.68 184.88,78.51 186.64,79.41 188.40,80.40 190.15,81.51 191.89,82.72 193.62,84.00 195.36,85.27 197.10,86.50 198.92,87.74 200.81,89.01 202.66,90.25 204.36,91.37 205.80,92.30 206.87,92.93 207.63,93.32 208.27,93.62 208.93,94.00 209.80,94.60 210.85,95.44 211.99,96.42 213.21,97.52 214.55,98.72 216.00,100.00 217.64,101.41 219.45,102.96 221.34,104.59 223.22,106.22 225.00,107.80 226.68,109.32 228.31,110.83 229.90,112.33 231.46,113.82 233.00,115.30 234.56,116.84 236.14,118.42 237.67,119.97 239.08,121.39 240.30,122.60 241.24,123.53 241.94,124.25 242.54,124.84 243.18,125.40 244.00,126.00 245.12,126.70 246.45,127.45 247.80,128.16 248.98,128.77 249.80,129.20 250.50,130.88 251.00,132.15 251.50,127.68 252.00,133.33 252.50,129.74 253.00,128.60 253.50,130.46 254.00,134.50 254.50,130.64 255.00,135.25 255.50,137.47 256.00,133.95 256.50,133.23 257.00,134.17 257.50,135.97 258.00,136.80 258.50,135.77 259.00,136.14 259.50,131.84 260.00,132.61 260.50,133.68 261.00,137.82 261.50,134.52 262.00,136.85 262.50,132.62 263.00,133.22 263.50,135.11" fill="none" stroke="#555" stroke-width="1.1"/>
<path d="M239.80,130.07V135.27M240.40,127.91V137.68M241.00,132.03V137.76M241.60,129.27V136.89M242.80,127.97V132.89M244.00,129.19V132.14M244.60,130.88V131.91M245.80,130.75V135.54M246.40,131.05V134.48M247.00,126.82V134.75M247.60,128.55V132.88M248.20,128.86V137.32M248.80,131.27V137.55M249.40,132.39V137.04M250.60,130.16V135.66M251.80,130.70V136.47M252.40,129.44V134.81M253.60,134.48V136.30M254.20,132.65V136.24M254.80,135.18V139.40M257.80,135.11V136.81M259.00,135.62V139.40M259.60,132.27V139.40M260.20,134.56V139.26M260.80,136.07V139.40M261.40,135.82V139.35M262.00,134.69V138.72M262.60,133.93V139.40" stroke="#6a6a6a" stroke-width="0.7"/>
<polygon points="140.00,124.00 140.50,124.25 141.00,122.93 141.50,122.46 142.00,122.68 142.50,122.15 143.00,121.75 143.50,122.11 144.00,121.36 144.50,120.58 145.00,120.44 145.50,120.60 146.00,120.27 146.50,118.85 147.00,119.49 147.50,118.45 148.00,118.43 148.50,118.32 149.00,117.65 149.50,117.03 150.00,116.76 150.50,116.91 151.00,116.53 151.50,115.92 152.00,115.95 152.50,116.21 153.00,115.20 153.50,115.02 154.00,115.21 154.50,114.95 155.00,113.94 155.50,114.48 156.00,114.31 156.50,114.34 157.00,113.22 157.50,113.05 158.00,112.68 158.50,113.02 159.00,112.45 159.50,111.91 160.00,112.58 160.50,112.51 161.00,111.34 161.50,110.97 162.00,111.19 162.50,110.55 163.00,111.51 163.50,110.42 164.00,110.97 164.50,110.24 165.00,110.04 165.50,110.40 166.00,109.34 166.50,109.99 167.00,109.25 167.50,109.06 168.00,108.91 168.50,109.51 169.00,108.27 169.50,109.22 170.00,108.20 170.50,108.88 171.00,108.53 171.50,108.24 172.00,107.81 172.50,108.15 173.00,107.78 173.50,108.05 174.00,106.96 174.50,107.58 175.00,107.10 175.50,107.41 176.00,106.57 176.50,107.01 177.00,106.48 177.50,106.33 178.00,106.45 178.50,106.58 179.00,106.66 179.50,106.77 180.00,105.75 180.50,106.78 181.00,105.96 181.50,105.74 182.00,105.46 182.50,105.50 183.00,105.39 183.50,105.84 184.00,105.78 184.50,105.12 185.00,104.86 185.50,105.35 186.00,105.43 186.50,104.94 187.00,105.23 187.50,105.56 188.00,104.74 188.50,104.48 189.00,105.43 189.50,104.98 190.00,105.17 190.50,104.82 191.00,104.69 191.50,104.46 192.00,105.46 192.50,105.47 193.00,104.43 193.50,105.49 194.00,104.63 194.50,104.95 195.00,104.72 195.50,105.15 196.00,104.86 196.50,104.65 197.00,104.68 197.50,105.33 198.00,105.20 198.50,105.62 199.00,104.99 199.50,105.37 200.00,105.76 200.50,105.47 201.00,105.58 201.50,105.65 202.00,106.66 202.50,106.31 203.00,107.01 203.50,107.09 204.00,106.83 204.50,106.57 205.00,106.58 205.50,106.81 206.00,107.72 206.50,107.96 207.00,107.59 207.50,107.29 208.00,108.29 208.50,107.48 209.00,107.89 209.50,108.28 210.00,108.46 210.50,108.17 211.00,108.43 211.50,108.36 212.00,108.60 212.50,109.15 213.00,108.60 213.50,109.49 214.00,109.97 214.50,109.83 215.00,109.33 215.50,110.04 216.00,110.23 216.50,110.74 217.00,109.87 217.50,110.84 218.00,110.05 218.50,110.60 219.00,111.44 219.50,111.54 220.00,111.09 220.50,110.78 221.00,111.11 221.50,111.72 222.00,111.49 222.50,111.51 223.00,112.48 223.50,112.68 224.00,112.50 224.50,112.18 225.00,113.13 225.50,112.93 226.00,113.87 226.50,114.00 227.00,114.60 227.50,114.13 228.00,115.06 228.50,114.86 229.00,115.54 229.50,116.26 230.00,116.24 230.50,116.65 231.00,116.42 231.50,116.71 232.00,117.34 232.50,118.13 233.00,118.57 233.50,118.50 234.00,119.51 234.50,119.92 235.00,119.40 235.50,120.71 236.00,120.95 236.50,121.57 237.00,121.63 237.50,121.92 238.00,122.43 238.50,123.53 239.00,123.50 239.50,124.28 240.00,124.93 240.50,124.54 241.00,125.69 241.50,125.80 242.00,126.24 242.50,126.40 243.00,126.78 243.50,127.09 244.00,128.24 244.50,128.28 245.00,129.37 245.50,128.78 246.00,130.28 246.50,130.71 247.00,130.74 247.50,131.33 248.00,131.19 248.50,132.34 249.00,132.83 249.50,132.80 250.00,132.83 250.50,133.96 251.00,133.60 251.50,133.84 252.00,135.17 252.50,134.47 253.00,135.65 253.50,135.29 254.00,135.87 254.50,136.66 255.00,136.78 255.50,137.06 256.00,137.74 256.50,137.86 257.00,138.14 257.50,138.43 258.00,138.67 258.50,138.75 259.00,139.04 259.50,138.49 260.00,139.04 260.50,139.51 261.00,139.42 261.50,139.76 262.00,138.88 262.50,139.41 263.00,139.53 263.50,139.75 263.50,141.08 263.00,140.98 262.50,140.88 262.00,140.79 261.50,140.69 261.00,140.59 260.50,140.49 260.00,140.39 259.50,140.29 259.00,140.20 258.50,140.10 258.00,140.00 257.50,140.02 257.00,140.06 256.50,139.51 256.00,139.52 255.50,139.49 255.00,139.56 254.50,139.83 254.00,139.04 253.50,139.60 253.00,139.88 252.50,139.46 252.00,139.60 251.50,139.39 251.00,139.39 250.50,139.19 250.00,139.36 249.50,140.06 249.00,139.70 248.50,139.20 248.00,140.01 247.50,139.42 247.00,139.91 246.50,139.28 246.00,139.60 245.50,139.25 245.00,139.10 244.50,139.48 244.00,139.94 243.50,139.60 243.00,137.52 242.50,136.66 242.00,134.78 241.50,134.58 241.00,135.24 240.50,132.70 240.00,132.35 239.50,132.43 239.00,132.25 238.50,132.79 238.00,131.56 237.50,130.74 237.00,129.40 236.50,129.10 236.00,129.64 235.50,128.59 235.00,127.35 234.50,128.32 234.00,126.46 233.50,126.92 233.00,125.59 232.50,125.83 232.00,125.82 231.50,127.16 231.00,126.69 230.50,124.02 230.00,123.93 229.50,123.09 229.00,122.99 228.50,122.08 228.00,121.81 227.50,121.94 227.00,120.70 226.50,121.47 226.00,120.57 225.50,120.23 225.00,120.21 224.50,119.25 224.00,120.06 223.50,118.71 223.00,117.81 222.50,118.52 222.00,117.47 221.50,117.52 221.00,116.64 220.50,116.71 220.00,118.36 219.50,115.50 219.00,116.08 218.50,115.72 218.00,115.47 217.50,114.93 217.00,114.97 216.50,114.24 216.00,114.27 215.50,114.16 215.00,113.63 214.50,114.81 214.00,112.96 213.50,113.12 213.00,112.44 212.50,113.00 212.00,112.77 211.50,114.54 211.00,112.52 210.50,112.59 210.00,111.67 209.50,114.12 209.00,111.91 208.50,111.33 208.00,110.72 207.50,111.47 207.00,111.64 206.50,110.26 206.00,110.01 205.50,110.75 205.00,109.92 204.50,110.30 204.00,110.36 203.50,109.30 203.00,110.12 202.50,109.93 202.00,110.75 201.50,111.07 201.00,108.89 200.50,108.37 200.00,108.29 199.50,108.84 199.00,108.53 198.50,108.18 198.00,108.20 197.50,108.21 197.00,109.72 196.50,108.05 196.00,108.20 195.50,107.75 195.00,107.51 194.50,108.22 194.00,108.11 193.50,107.87 193.00,108.19 192.50,108.21 192.00,107.24 191.50,107.62 191.00,107.69 190.50,107.71 190.00,109.48 189.50,109.37 189.00,107.69 188.50,108.32 188.00,108.14 187.50,108.50 187.00,107.76 186.50,108.51 186.00,107.89 185.50,108.93 185.00,107.72 184.50,108.65 184.00,108.02 183.50,109.65 183.00,108.31 182.50,108.54 182.00,108.92 181.50,109.23 181.00,109.44 180.50,109.20 180.00,110.08 179.50,109.75 179.00,110.93 178.50,109.30 178.00,109.64 177.50,110.36 177.00,109.74 176.50,110.03 176.00,110.73 175.50,110.88 175.00,110.74 174.50,110.67 174.00,110.38 173.50,111.58 173.00,110.91 172.50,111.82 172.00,112.27 171.50,111.30 171.00,112.03 170.50,111.39 170.00,111.82 169.50,112.63 169.00,111.96 168.50,112.63 168.00,112.06 167.50,113.11 167.00,113.59 166.50,113.71 166.00,113.92 165.50,114.18 165.00,115.12 164.50,114.54 164.00,115.73 163.50,114.35 163.00,114.31 162.50,114.74 162.00,115.04 161.50,115.68 161.00,116.24 160.50,116.48 160.00,116.66 159.50,117.77 159.00,116.42 158.50,117.58 158.00,116.99 157.50,118.14 157.00,117.55 156.50,117.93 156.00,118.45 155.50,118.36 155.00,118.81 154.50,119.79 154.00,119.46 153.50,119.27 153.00,120.67 152.50,120.37 152.00,121.23 151.50,122.06 151.00,121.34 150.50,122.16 150.00,121.35 149.50,126.75 149.00,132.76 148.50,135.33 148.00,139.82 147.50,139.13 147.00,140.03 146.50,139.47 146.00,139.57 145.50,139.60 145.00,140.14 144.50,139.30 144.00,140.04 143.50,139.15 143.00,139.60 142.50,139.50 142.00,140.06 141.50,139.29 141.00,139.11 140.50,139.54 140.00,139.26" fill="#000"/>
<path d="M123.00,139.6V130.96M123.50,139.6V132.81M124.00,139.6V132.26M124.50,139.6V130.71M125.00,139.6V137.20M125.50,139.6V134.80M126.00,139.6V134.67M126.50,139.6V132.71M127.00,139.6V135.74M127.50,139.6V132.41M129.00,139.6V131.99M129.50,139.6V136.12M130.00,139.6V132.16M132.50,139.6V130.85M133.00,139.6V133.13M135.00,139.6V133.76M135.50,139.6V132.58M136.00,139.6V131.90M136.50,139.6V129.32M137.00,139.6V128.83M137.50,139.6V126.45M138.00,139.6V126.87M138.50,139.6V126.27M139.00,139.6V126.09M139.50,139.6V126.32M140.00,139.6V126.71M141.00,139.6V125.61M142.00,139.6V122.16M142.50,139.6V123.78M143.00,139.6V120.95M144.00,139.6V121.20M144.50,139.6V120.42M145.00,139.6V122.61M145.50,139.6V119.76M146.50,139.6V119.12M147.50,139.6V120.88M148.00,139.6V120.98M148.50,139.6V120.41M149.00,139.6V119.47M149.50,139.6V119.32M150.00,139.6V119.53M150.50,139.6V116.81M151.00,139.6V116.06M151.50,139.6V115.48" stroke="#000" stroke-width="0.75"/>
<path d="M122.00,126.30v-2.97M122.60,130.39v-4.45M123.20,133.63v-2.87M125.60,131.95v-4.84M126.20,134.44v-3.54M126.80,134.72v-3.73M128.00,139.13v-3.04M128.60,138.90v-1.14M130.40,137.83v-2.46M131.00,134.46v-4.08M131.60,133.30v-2.69M133.40,135.80v-2.61M134.60,132.76v-4.90M136.40,131.65v-2.20M138.80,136.10v-4.54M140.00,132.70v-1.02" stroke="#777" stroke-width="0.6"/>
<polyline points="115.00,142.16 115.40,146.60 115.80,136.42 116.20,134.51 116.60,136.95 117.00,139.24 117.40,135.66 117.80,136.33 118.20,136.38 118.60,136.55 119.00,134.35 119.40,134.73 119.80,127.38 120.20,133.94 120.60,132.21 121.00,137.68 121.40,129.62 121.80,131.94 122.20,129.92 122.60,139.04 123.00,139.80 123.40,134.98 123.80,129.76 124.20,135.82 124.60,135.91 125.00,133.37 125.40,129.71 125.80,130.93 126.20,132.60 126.60,130.56 127.00,131.53 127.40,133.88 127.80,137.37 128.20,125.06 128.60,132.85 129.00,126.05 129.40,127.76 129.80,138.04 130.20,134.75 130.60,138.96 131.00,131.75 131.40,125.10 131.80,129.72 132.20,132.39 132.60,137.43 133.00,138.23 133.40,131.36 133.80,130.67 134.20,126.03 134.60,132.82 135.00,125.97 135.40,124.32 135.80,121.62 136.20,119.91 136.60,119.72 137.00,118.05 137.40,118.06 137.80,116.01 138.20,116.06 138.60,114.41 139.00,113.51 139.40,113.59 139.80,112.25 140.20,112.08 140.60,110.83 141.00,110.07 141.40,110.34 141.80,109.67 142.20,109.25 142.60,108.50 143.00,107.13 143.40,107.19 143.80,106.69 144.20,105.80 144.60,105.77 145.00,104.39 145.40,103.45 145.80,102.50 146.20,101.55 146.60,100.61 147.00,99.66 147.40,98.72 147.80,97.77 148.20,97.00 148.60,96.40 149.00,95.80 149.40,95.20 149.80,94.60 150.20,94.00 150.60,93.40 151.00,92.80 151.40,92.20 151.80,91.60 152.20,91.00 152.60,90.50 153.00,90.10 153.40,89.70 153.80,89.30 154.20,88.90 154.60,88.50 155.00,88.10 155.40,87.70 155.80,87.30 156.20,86.90 156.60,86.50 157.00,86.10 157.40,85.70 157.80,85.30 158.20,85.00 158.60,84.81 159.00,84.62 159.40,84.43 159.80,84.24 160.20,84.05 160.60,83.86 161.00,83.67 161.40,83.48 161.80,83.29 162.20,83.10 162.60,82.96 163.00,82.82 163.40,82.69 163.80,82.55 164.20,82.41 164.60,82.27 165.00,82.13 165.40,82.00 165.80,81.86 166.20,81.72 166.60,81.58 167.00,81.44 167.40,81.31 167.80,81.17 168.20,81.03 168.60,80.89 169.00,80.76 169.40,80.62 169.80,80.48 170.20,80.34 170.60,80.20 171.00,80.09 171.40,80.05 171.80,80.01 172.20,79.97 172.60,79.92 173.00,79.88 173.40,79.84 173.80,79.80 174.20,79.76 174.60,79.72 175.00,79.68 175.40,79.63 175.80,79.59 176.20,79.55 176.60,79.51 177.00,79.47 177.40,79.43 177.80,79.39 178.20,79.34 178.60,79.30 179.00,79.26 179.40,79.22 179.80,79.23 180.20,79.28 180.60,79.34 181.00,79.39 181.40,79.45 181.80,79.50 182.20,79.55 182.60,79.61 183.00,79.66 183.40,79.72 183.80,79.77 184.20,79.83 184.60,79.88 185.00,79.94 185.40,79.99 185.80,80.05 186.20,80.10 186.60,80.15 187.00,80.21 187.40,80.26 187.80,80.32 188.20,80.37 188.60,80.46 189.00,80.59 189.40,80.71 189.80,80.83 190.20,80.96 190.60,81.08 191.00,81.21 191.40,81.33 191.80,81.46 192.20,81.58 192.60,81.70 193.00,81.83 193.40,81.95 193.80,82.08 194.20,82.20 194.60,82.32 195.00,82.45 195.40,82.57 195.80,82.70 196.20,82.82 196.60,82.94 197.00,83.07 197.40,83.22 197.80,83.37 198.20,83.53 198.60,83.69 199.00,83.84 199.40,84.00 199.80,84.16 200.20,83.82 200.60,85.40 201.00,85.06 201.40,83.80 201.80,83.97 202.20,85.39 202.60,85.88 203.00,84.57 203.40,85.18 203.80,86.18 204.20,85.21 204.60,86.75 205.00,86.16 205.40,85.46 205.80,86.24 206.20,86.83 206.60,86.73 207.00,87.38 207.40,86.50 207.80,87.98 208.20,87.29 208.60,88.03 209.00,88.17 209.40,87.92 209.80,88.04 210.20,89.01 210.60,89.51 211.00,89.36 211.40,89.10 211.80,88.73 212.20,88.44 212.60,90.45 213.00,90.08 213.40,90.51 213.80,89.69 214.20,90.42 214.60,91.34 215.00,91.22 215.40,90.94 215.80,90.53 216.20,90.98 216.60,92.15 217.00,91.38 217.40,92.25 217.80,92.34 218.20,93.18 218.60,93.25 219.00,92.46 219.40,92.15 219.80,92.92 220.20,93.49 220.60,94.07 221.00,94.78 221.40,95.18 221.80,93.74 222.20,95.57 222.60,95.78 223.00,96.14 223.40,95.81 223.80,95.46 224.20,96.87 224.60,97.03 225.00,97.04 225.40,97.75 225.80,96.87 226.20,96.66 226.60,97.97 227.00,98.84 227.40,98.02 227.80,99.50 228.20,100.24 228.60,99.22 229.00,100.34 229.40,100.86 229.80,100.81 230.20,100.67 230.60,101.14 231.00,102.51 231.40,102.97 231.80,102.68 232.20,102.31 232.60,104.13 233.00,104.44 233.40,103.74 233.80,104.81 234.20,105.82 234.60,106.17 235.00,105.69 235.40,105.85 235.80,106.32 236.20,105.77 236.60,106.03 237.00,106.25 237.40,107.54 237.80,107.11 238.20,107.77 238.60,107.69 239.00,108.17 239.40,107.68 239.80,107.72 240.20,109.88 240.60,108.88 241.00,108.59 241.40,109.89 241.80,110.45 242.20,109.44 242.60,110.58 243.00,110.33 243.40,110.94 243.80,110.19 244.20,110.48 244.60,112.65 245.00,112.66 245.40,112.15 245.80,112.57 246.20,112.22 246.60,113.51 247.00,113.06 247.40,114.35 247.80,114.25 248.20,114.61 248.60,115.16 249.00,114.00 249.40,113.82 249.80,114.40 250.20,114.65 250.60,114.74 251.00,114.96 251.40,116.26 251.80,117.17 252.20,116.63 252.60,117.89 253.00,118.11 253.40,116.70 253.80,118.05 254.20,117.95 254.60,117.72 255.00,118.85 255.40,122.24 255.80,122.79 256.20,121.33 256.60,125.79 257.00,120.16 257.40,120.75 257.80,126.75 258.20,127.05 258.60,127.47 259.00,127.17 259.40,123.23 259.80,129.60 260.20,129.76 260.60,129.86 261.00,126.75 261.40,129.08 261.80,132.32 262.20,131.82 262.60,136.60 263.00,137.65 263.40,132.92" fill="none" stroke="#f00" stroke-width="1.4"/>
<polyline points="112.60,139.50 112.60,120.00 112.80,108.00 113.00,100.00 114.10,93.50 115.30,88.00 116.50,84.00 117.80,80.50 118.80,79.50 119.80,82.50 120.50,84.00 121.60,81.50 122.50,83.00 124.00,86.00 126.00,89.00 126.00,89.00 126.25,89.82 126.59,90.97 127.01,92.32 127.48,93.74 128.00,95.10 128.58,96.41 129.22,97.77 129.91,99.13 130.61,100.49 131.30,101.80 132.00,103.10 132.72,104.42 133.44,105.69 134.11,106.87 134.70,107.90 135.17,108.85 135.53,109.77 135.86,110.53 136.23,111.05 136.70,111.20 137.31,110.91 138.00,110.24 138.74,109.32 139.48,108.30 140.20,107.30 140.89,106.32 141.57,105.27 142.25,104.16 142.93,103.00 143.60,101.80 144.27,100.54 144.93,99.21 145.58,97.84 146.24,96.46 146.90,95.10 147.59,93.72 148.30,92.31 149.00,90.91 149.64,89.59 150.20,88.40 150.62,87.43 150.92,86.66 151.18,85.92 151.48,85.09 151.90,84.00 152.40,82.56 152.93,80.88 153.54,79.09 154.28,77.35 155.20,75.80 156.34,74.44 157.65,73.16 159.10,71.98 160.63,70.92 162.20,70.00 163.83,69.25 165.56,68.65 167.34,68.16 169.13,67.73 170.90,67.30 172.64,66.87 174.38,66.48 176.11,66.12 177.85,65.83 179.60,65.60 181.36,65.45 183.12,65.36 184.88,65.33 186.64,65.35 188.40,65.40 190.15,65.50 191.89,65.64 193.62,65.83 195.36,66.05 197.10,66.30 198.82,66.57 200.51,66.88 202.21,67.22 203.96,67.59 205.80,68.00 207.75,68.43 209.78,68.87 211.86,69.36 213.95,69.92 216.00,70.60 217.96,71.36 219.86,72.19 221.77,73.12 223.79,74.18 226.00,75.40 228.45,76.83 231.08,78.45 233.81,80.19 236.58,81.96 239.30,83.70 242.10,85.49 245.04,87.38 247.92,89.23 250.54,90.92 252.70,92.30 254.27,93.29 255.39,93.97 256.25,94.48 257.05,94.95 258.00,95.50 259.19,96.19 260.49,96.93 261.75,97.65 262.83,98.26 263.60,98.70" fill="none" stroke="#0f0" stroke-width="1.5"/>
<path d="M112.6,139.5V97" stroke="#0f0" stroke-width="1.3"/>
<polyline points="114.60,139.50 114.60,120.00 115.00,117.90 115.60,110.00 116.70,107.40 117.50,112.00 118.50,104.00 119.30,109.00 120.20,102.20 121.00,96.00 122.00,95.00 123.00,88.00 123.80,72.00 124.50,62.50 125.20,70.00 125.80,77.00 126.60,78.50 127.30,80.00 128.30,86.60 129.80,90.40 129.80,90.40 129.92,90.67 130.07,91.02 130.27,91.48 130.51,92.09 130.80,92.90 131.15,94.01 131.56,95.39 132.02,96.88 132.50,98.34 133.00,99.60 133.52,100.72 134.08,101.79 134.65,102.75 135.23,103.51 135.80,104.00 136.36,104.15 136.92,104.01 137.49,103.68 138.05,103.28 138.60,102.90 139.14,102.55 139.65,102.16 140.17,101.72 140.72,101.23 141.30,100.70 141.94,100.10 142.61,99.45 143.31,98.75 144.02,98.03 144.70,97.30 145.35,96.57 145.97,95.83 146.61,95.06 147.27,94.26 148.00,93.40 148.83,92.44 149.73,91.40 150.66,90.33 151.57,89.31 152.40,88.40 153.12,87.64 153.77,86.99 154.40,86.38 155.06,85.77 155.80,85.10 156.60,84.42 157.44,83.77 158.33,83.06 159.31,82.23 160.40,81.20 161.65,79.86 163.03,78.28 164.48,76.59 165.96,74.95 167.40,73.50 168.77,72.25 170.12,71.11 171.48,70.06 172.89,69.09 174.40,68.20 176.03,67.36 177.76,66.59 179.54,65.90 181.33,65.33 183.10,64.90 184.84,64.63 186.58,64.50 188.31,64.49 190.05,64.56 191.80,64.70 193.61,64.93 195.48,65.26 197.32,65.66 199.06,66.09 200.60,66.50 201.82,66.87 202.78,67.22 203.67,67.60 204.68,68.05 206.00,68.60 207.71,69.28 209.67,70.05 211.78,70.90 213.93,71.79 216.00,72.70 217.95,73.56 219.84,74.40 221.76,75.30 223.79,76.37 226.00,77.70 228.52,79.44 231.31,81.52 234.16,83.73 236.89,85.86 239.30,87.70 241.41,89.25 243.34,90.65 245.08,91.91 246.61,93.02 247.90,94.00 248.83,94.75 249.40,95.28 249.82,95.71 250.28,96.17 251.00,96.80 252.00,97.61 253.16,98.53 254.42,99.51 255.72,100.51 257.00,101.50 258.39,102.56 259.91,103.72 261.41,104.85 262.69,105.82 263.60,106.50" fill="none" stroke="#00f" stroke-width="1.5"/>
<path d="M114.8,139.5V101" stroke="#00f" stroke-width="2.6"/>
<path d="M115.50,103.57V107.76M116.20,103.60V112.93M116.90,103.33V107.12M117.60,100.68V106.78M118.30,103.57V112.74M119.00,101.77V109.62M119.70,100.04V112.58M120.40,100.87V111.03" stroke="#00f" stroke-width="0.8"/>
</g>
<rect x="235.5" y="31.6" width="28.1" height="26.4" fill="#fff" stroke="#555" stroke-width="0.8"/>
<rect x="110.4" y="31.6" width="153.2" height="107.8" fill="none" stroke="#333" stroke-width="0.9"/>
<path d="M123.70,139.4v-3.2M123.70,31.6v3.2M138.34,139.4v-2.0M138.34,31.6v2.0M152.98,139.4v-3.2M152.98,31.6v3.2M167.62,139.4v-2.0M167.62,31.6v2.0M182.26,139.4v-3.2M182.26,31.6v3.2M196.90,139.4v-2.0M196.90,31.6v2.0M211.54,139.4v-3.2M211.54,31.6v3.2M226.18,139.4v-2.0M226.18,31.6v2.0M240.82,139.4v-3.2M240.82,31.6v3.2M255.46,139.4v-2.0M255.46,31.6v2.0M110.4,136.00h2.6M263.6,136.00h-2.6M110.4,132.90h1.6M263.6,132.90h-1.6M110.4,129.80h1.6M263.6,129.80h-1.6M110.4,126.70h2.6M263.6,126.70h-2.6M110.4,123.60h1.6M263.6,123.60h-1.6M110.4,120.50h1.6M263.6,120.50h-1.6M110.4,117.40h2.6M263.6,117.40h-2.6M110.4,114.30h1.6M263.6,114.30h-1.6M110.4,111.20h1.6M263.6,111.20h-1.6M110.4,108.10h2.6M263.6,108.10h-2.6M110.4,105.00h1.6M263.6,105.00h-1.6M110.4,101.90h1.6M263.6,101.90h-1.6M110.4,98.80h2.6M263.6,98.80h-2.6M110.4,95.70h1.6M263.6,95.70h-1.6M110.4,92.60h1.6M263.6,92.60h-1.6M110.4,89.50h2.6M263.6,89.50h-2.6M110.4,86.40h1.6M263.6,86.40h-1.6M110.4,83.30h1.6M263.6,83.30h-1.6M110.4,80.20h2.6M263.6,80.20h-2.6M110.4,77.10h1.6M263.6,77.10h-1.6M110.4,74.00h1.6M263.6,74.00h-1.6M110.4,70.90h2.6M263.6,70.90h-2.6M110.4,67.80h1.6M263.6,67.80h-1.6M110.4,64.70h1.6M263.6,64.70h-1.6M110.4,61.60h2.6M263.6,61.60h-2.6M110.4,58.50h1.6M263.6,58.50h-1.6M110.4,55.40h1.6M263.6,55.40h-1.6M110.4,52.30h2.6M263.6,52.30h-2.6M110.4,49.20h1.6M263.6,49.20h-1.6M110.4,46.10h1.6M263.6,46.10h-1.6M110.4,43.00h2.6M263.6,43.00h-2.6M110.4,39.90h1.6M263.6,39.90h-1.6M110.4,36.80h1.6M263.6,36.80h-1.6M110.4,33.70h2.6M263.6,33.70h-2.6" stroke="#333" stroke-width="0.8" fill="none"/>
<g style="font-family:'Liberation Sans',Arial,sans-serif;stroke:#000;stroke-width:0.28px;fill:#000;font-size:8.3px" fill="#111"><text x="84.2" y="227.30" text-anchor="end">0</text><text x="84.2" y="194.25" text-anchor="end">500</text><text x="84.2" y="161.20" text-anchor="end">1000</text><text x="84.2" y="128.15" text-anchor="end">1500</text><text x="84.2" y="95.10" text-anchor="end">2000</text><text x="84.2" y="62.05" text-anchor="end">2500</text><text x="84.2" y="29.00" text-anchor="end">3000</text><text x="87.60" y="235.1" text-anchor="middle">200</text><text x="141.40" y="235.1" text-anchor="middle">250</text><text x="195.20" y="235.1" text-anchor="middle">300</text><text x="249.00" y="235.1" text-anchor="middle">350</text><text x="302.80" y="235.1" text-anchor="middle">400</text><text x="356.60" y="235.1" text-anchor="middle">450</text><text x="410.40" y="235.1" text-anchor="middle">500</text><text x="123.50" y="21.7" text-anchor="middle">600</text><text x="183.10" y="21.7" text-anchor="middle">400</text><text x="242.70" y="21.7" text-anchor="middle">200</text><text x="302.30" y="21.7" text-anchor="middle">0</text></g>
<text style="font-family:'Liberation Sans',Arial,sans-serif;stroke:#000;stroke-width:0.28px;fill:#000;font-size:11.2px" x="207.3" y="251.6">Channel number</text>
<text style="font-family:'Liberation Sans',Arial,sans-serif;stroke:#000;stroke-width:0.28px;fill:#000;font-size:11.5px" transform="translate(48.4,133.4) rotate(-90)" text-anchor="middle">Yield</text>
<text style="font-family:'Liberation Sans',Arial,sans-serif;stroke:#000;stroke-width:0.28px;fill:#000;font-size:9.7px" x="179.4" y="7.6">Zn depth (nm)</text>
<g style="font-family:'Liberation Sans',Arial,sans-serif;stroke:#000;stroke-width:0.28px;fill:#000;font-size:6.9px;stroke-width:0.12px" fill="#111"><text x="123.70" y="149.3" text-anchor="middle">400</text><text x="152.98" y="149.3" text-anchor="middle">500</text><text x="182.26" y="149.3" text-anchor="middle">600</text><text x="211.54" y="149.3" text-anchor="middle">700</text><text x="240.82" y="149.3" text-anchor="middle">800</text></g>
<text style="font-family:'Liberation Sans',Arial,sans-serif;stroke:#000;stroke-width:0.28px;fill:#000;font-size:6.4px;stroke-width:0.1px" x="162.6" y="158.4" fill="#111">Wavelength (nm)</text>
<text style="font-family:'Liberation Sans',Arial,sans-serif;stroke:#000;stroke-width:0.28px;fill:#000;font-size:6.95px;stroke:none;fill:#222" transform="translate(101.1,89.4) rotate(-90)" text-anchor="middle" fill="#111">PL Intensity (arb. units)</text>
<text style="font-family:'Liberation Sans',Arial,sans-serif;stroke:#000;stroke-width:0.28px;fill:#000;font-size:11.2px" x="116.3" y="47">NBE</text>
<text style="font-family:'Liberation Sans',Arial,sans-serif;stroke:#000;stroke-width:0.28px;fill:#000;font-size:11px" x="127.2" y="67.4">Di</text>
<text style="font-family:'Liberation Sans',Arial,sans-serif;stroke:#000;stroke-width:0.28px;fill:#000;font-size:10.6px" x="179.6" y="59.8">DLE</text>
<text style="font-family:'Liberation Sans',Arial,sans-serif;stroke:#000;stroke-width:0.28px;fill:#000;font-size:15.8px" x="239.6" y="50.6">PL</text>
<rect x="362" y="27" width="60" height="26.1" fill="#fff" stroke="#888" stroke-width="0.9"/>
<text style="font-family:'Liberation Sans',Arial,sans-serif;stroke:#000;stroke-width:0.28px;fill:#000;font-size:16.3px" x="368.6" y="45.7">RBS</text>
<text style="font-family:'Liberation Sans',Arial,sans-serif;stroke:#000;stroke-width:0.28px;fill:#000;font-size:10.4px" x="320.6" y="80.2">50 keV <tspan font-size="5.4px" dx="0.6" dy="-5.4" style="stroke:none">14</tspan><tspan dy="5.4">N</tspan><tspan font-size="5.4px" dy="-5.6" style="stroke:none">+</tspan></text>
<text style="font-family:'Liberation Sans',Arial,sans-serif;stroke:#000;stroke-width:0.28px;fill:#000;font-size:10.4px" x="320.6" y="95">1×10<tspan font-size="5.4px" dx="0.6" dy="-5.6" style="stroke:none">16</tspan><tspan dy="5.6"> cm</tspan><tspan font-size="5.4px" dx="0.3" dy="-5.4" style="stroke:none">-2</tspan></text>
<line x1="320" y1="104.4" x2="344" y2="104.4" stroke="#111" stroke-width="1" stroke-dasharray="3.5,2.4"/>
<text style="font-family:'Liberation Sans',Arial,sans-serif;stroke:#000;stroke-width:0.28px;fill:#000;font-size:10.3px" x="346.6" y="107.4">virgin</text>
<line x1="320" y1="116.9" x2="344.3" y2="116.9" stroke="#555" stroke-width="1.2"/>
<text style="font-family:'Liberation Sans',Arial,sans-serif;stroke:#000;stroke-width:0.28px;fill:#000;font-size:10.3px" x="346.6" y="120.5">random</text>
<line x1="320.5" y1="129.7" x2="343.8" y2="129.7" stroke="#888" stroke-width="1"/>
<circle cx="332.2" cy="129.7" r="2.1" fill="#000"/>
<text style="font-family:'Liberation Sans',Arial,sans-serif;stroke:#000;stroke-width:0.28px;fill:#000;font-size:10.2px" x="347.3" y="132.8"><tspan font-style="italic">T</tspan><tspan font-style="italic" font-size="6px" dy="4.4" style="stroke:none">i</tspan><tspan dy="-4.4"> = RT</tspan></text>
<line x1="320.5" y1="148" x2="343.8" y2="148" stroke="#f55" stroke-width="1"/>
<path d="M329.80,149.76L334.60,149.76L332.20,145.44Z" fill="#f00"/>
<text style="font-family:'Liberation Sans',Arial,sans-serif;stroke:#000;stroke-width:0.28px;fill:#000;font-size:10.2px" x="347.3" y="151.1"><tspan font-style="italic">T</tspan><tspan font-style="italic" font-size="6px" dy="4.4" style="stroke:none">i</tspan><tspan dy="-4.4"> = 300 °C</tspan></text>
<line x1="320.5" y1="166.4" x2="343.8" y2="166.4" stroke="#66f" stroke-width="1"/>
<path d="M329.80,164.64L334.60,164.64L332.20,168.96Z" fill="#00f"/>
<text style="font-family:'Liberation Sans',Arial,sans-serif;stroke:#000;stroke-width:0.28px;fill:#000;font-size:10.2px" x="347.3" y="169.5"><tspan font-style="italic">T</tspan><tspan font-style="italic" font-size="6px" dy="4.4" style="stroke:none">i</tspan><tspan dy="-4.4"> = 650 °C</tspan></text>
<line x1="320.5" y1="184.8" x2="343.8" y2="184.8" stroke="#4f4" stroke-width="1"/>
<path d="M332.20,181.90L332.97,183.74L334.96,183.90L333.44,185.20L333.90,187.15L332.20,186.11L330.50,187.15L330.96,185.20L329.44,183.90L331.43,183.74Z" fill="#0f0"/>
<text style="font-family:'Liberation Sans',Arial,sans-serif;stroke:#000;stroke-width:0.28px;fill:#000;font-size:10.2px" x="347.3" y="187.9"><tspan font-style="italic">T</tspan><tspan font-style="italic" font-size="6px" dy="4.4" style="stroke:none">i</tspan><tspan dy="-4.4"> = 800 °C</tspan></text>
<text style="font-family:'Liberation Serif','Times New Roman',serif;stroke:#000;stroke-width:0.25px;fill:#000;font-size:10.8px" x="268.3" y="134.3">SRIM</text>
<text style="font-family:'Liberation Serif','Times New Roman',serif;stroke:#000;stroke-width:0.25px;fill:#000;font-size:10px;font-style:italic" x="272.6" y="152.1">R<tspan font-size="7px" dy="3.8">p</tspan></text>
<text style="font-family:'Liberation Serif','Times New Roman',serif;stroke:#000;stroke-width:0.25px;fill:#000;font-size:10px;font-style:italic" x="283.4" y="146">R<tspan font-size="7px" dy="4.6">pd</tspan></text>
<path d="M275.5,158.2V170.5M286,151V163.2" stroke="#666" stroke-width="0.9"/>
<path d="M274,170L277,170L275.5,173.8ZM284.5,162.7L287.5,162.7L286,166.5Z" fill="#000"/>
<rect x="408" y="0" width="40" height="252" fill="#fff"/>
</svg>
</body></html>
